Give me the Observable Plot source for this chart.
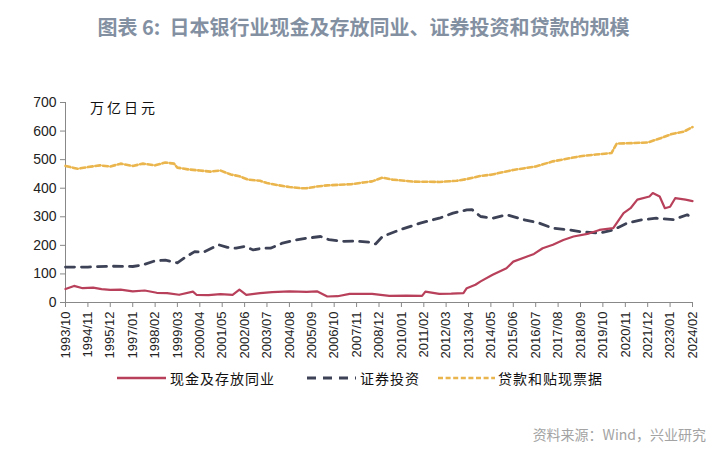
<!DOCTYPE html>
<html>
<head>
<meta charset="utf-8">
<script src="https://cdn.jsdelivr.net/npm/d3@7"></script>
<script src="https://cdn.jsdelivr.net/npm/@observablehq/plot@0.6"></script>
<style>
  html, body { margin: 0; padding: 0; background: #fff; }
  #wrap { position: relative; width: 727px; height: 455px; overflow: hidden; font-family: "Noto Sans CJK SC", "Noto Sans", sans-serif; }
  #title { position: absolute; left: 0; width: 727px; top: 12px; text-align: center; font-size: 20px; font-weight: 700; color: #8390a2; white-space: pre; }
  #chart { position: absolute; left: 0; top: 0; }
  #unit { position: absolute; left: 90px; top: 97px; font-size: 14px; letter-spacing: 3px; color: #111; }
  .leg { position: absolute; top: 369px; font-size: 14px; letter-spacing: 1px; color: #111; line-height: 18px; }
  .legsw { position: absolute; top: 369px; }
  #source { position: absolute; right: 21px; top: 424px; font-size: 14px; color: #a3a3a3; }
</style>
</head>
<body>
<div id="wrap">
  <div id="chart"></div>
  <div id="title">图表 6:  日本银行业现金及存放同业、证券投资和贷款的规模</div>
  <div id="unit">万亿日元</div>
  <svg class="legsw" style="left:116px" width="52" height="18"><line x1="1" x2="50" y1="9" y2="9" stroke="#b8405a" stroke-width="2.4"/></svg>
  <div class="leg" style="left:170px">现金及存放同业</div>
  <svg class="legsw" style="left:306px" width="52" height="18"><line x1="1" x2="50" y1="9" y2="9" stroke="#3d4256" stroke-width="2.8" stroke-dasharray="9,7"/></svg>
  <div class="leg" style="left:360px">证券投资</div>
  <svg class="legsw" style="left:437px" width="60" height="18"><line x1="1" x2="58" y1="9" y2="9" stroke="#eab54c" stroke-width="2.6" stroke-dasharray="5,2.6"/></svg>
  <div class="leg" style="left:498px">贷款和贴现票据</div>
  <div id="source">资料来源：Wind，兴业研究</div>
</div>
<script>
const seriesNames = ["现金及存放同业", "证券投资", "贷款和贴现票据"];
const yTicks = [0, 100, 200, 300, 400, 500, 600, 700];
const xTickLabels = ["1993/10","1994/11","1995/12","1997/01","1998/02","1999/03","2000/04","2001/05","2002/06","2003/07","2004/08","2005/09","2006/10","2007/11","2008/12","2010/01","2011/02","2012/03","2013/04","2014/05","2015/06","2016/07","2017/08","2018/09","2019/10","2020/11","2021/12","2023/01","2024/02"];

const cashDates = ["1993/10","1994/03","1994/08","1995/02","1995/07","1995/12","1996/06","1997/01","1997/08","1998/03","1998/09","1999/04","1999/12","2000/02","2000/09","2001/04","2001/11","2002/03","2002/07","2003/03","2003/10","2004/08","2005/06","2005/12","2006/06","2006/12","2007/07","2008/08","2009/06","2010/04","2011/01","2011/03","2011/11","2012/06","2013/01","2013/03","2013/08","2013/11","2014/06","2015/02","2015/06","2016/02","2016/06","2016/11","2017/05","2017/11","2018/05","2019/01","2019/08","2020/04","2020/06","2020/10","2021/02","2021/06","2022/01","2022/03","2022/07","2022/10","2023/01","2023/04","2023/10","2024/02"];
const cashValues = [47,58,50,52,47,44,45,39,42,34,33,27,38,27,26,29,27,45,27,33,36,39,37,39,21,22,30,30,23,24,23,38,30,31,33,50,62,74,97,120,143,161,170,190,202,219,231,240,254,260,278,313,330,360,371,383,371,330,335,365,360,355];

const secDates = ["1993/10","1994/11","1995/12","1997/01","1997/07","1998/02","1998/08","1999/03","1999/08","2000/01","2000/06","2001/03","2001/08","2002/01","2002/06","2002/11","2003/04","2003/09","2004/04","2004/11","2005/06","2006/02","2006/07","2007/03","2007/11","2008/08","2008/10","2009/02","2009/12","2010/12","2011/11","2012/07","2013/03","2013/06","2013/11","2014/06","2015/02","2015/12","2016/09","2017/05","2018/01","2018/09","2019/08","2020/04","2020/12","2021/09","2022/05","2023/03","2023/11","2024/02"];
const secValues = [124,124,127,126,132,146,148,139,160,178,176,202,193,190,196,184,190,190,208,218,225,231,220,214,215,210,205,231,254,278,295,313,324,325,301,295,307,290,278,260,255,248,243,254,278,290,295,290,307,295];

const loanDates = ["1993/10","1994/05","1994/11","1995/06","1995/12","1996/06","1997/01","1997/07","1998/02","1998/08","1999/01","1999/03","1999/09","2000/04","2000/10","2001/04","2001/10","2002/03","2002/08","2003/03","2003/07","2004/02","2004/08","2005/03","2005/06","2005/12","2006/06","2007/01","2007/08","2008/03","2008/08","2009/02","2009/08","2010/08","2011/11","2012/09","2013/03","2013/11","2014/05","2015/06","2016/07","2017/05","2018/09","2019/06","2020/03","2020/06","2021/12","2022/08","2023/02","2023/09","2024/02"];
const loanValues = [478,468,474,480,476,486,478,486,480,490,486,472,466,462,458,462,448,442,430,426,418,410,404,400,400,406,410,412,414,420,424,437,430,423,422,426,432,443,447,464,476,494,512,518,523,556,560,576,590,598,614];

const parse = s => { const [y, m] = s.split("/").map(Number); return new Date(Date.UTC(y, m - 1, 1)); };
const build = (dates, values) => dates.map((d, i) => ({date: parse(d), value: values[i]}));
const cash = build(cashDates, cashValues);
const sec = build(secDates, secValues);
const loan = build(loanDates, loanValues);
const xTicks = xTickLabels.map(parse);

const chart = Plot.plot({
  width: 727,
  height: 380,
  marginTop: 102,
  marginBottom: 78,
  marginLeft: 65,
  marginRight: 35,
  style: {fontFamily: "Liberation Sans, Arial, sans-serif", fontSize: "13px", color: "#222", background: "transparent"},
  x: {type: "utc", domain: [parse("1993/10"), parse("2024/02")]},
  y: {domain: [0, 700]},
  marks: [
    Plot.axisY({ticks: yTicks, tickSize: 5, tickPadding: 4, label: null, fontSize: 14, stroke: "#888"}),
    Plot.axisX({ticks: xTicks, tickFormat: d3.utcFormat("%Y/%m"), tickRotate: -90, tickSize: 5, tickPadding: 4, label: null, fontSize: 13, stroke: "#888"}),
    Plot.ruleX([parse("1993/10")], {y1: 0, y2: 700, stroke: "#888", strokeWidth: 1}),
    Plot.ruleY([0], {stroke: "#888", strokeWidth: 1}),
    Plot.line(loan, {x: "date", y: "value", stroke: "#eab54c", strokeWidth: 2.6, strokeDasharray: "5,2.6", curve: "linear"}),
    Plot.line(sec, {x: "date", y: "value", stroke: "#3d4256", strokeWidth: 2.8, strokeDasharray: "9,7", curve: "linear"}),
    Plot.line(cash, {x: "date", y: "value", stroke: "#b8405a", strokeWidth: 2.2, curve: "linear"})
  ]
});
document.getElementById("chart").appendChild(chart);
</script>
</body>
</html>
